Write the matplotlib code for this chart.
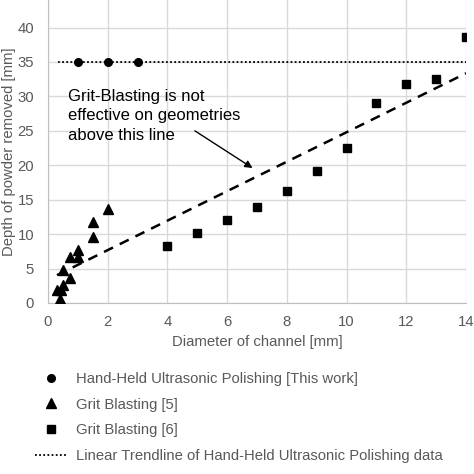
import numpy as np
import matplotlib
matplotlib.use("Agg")
import matplotlib.pyplot as plt

plt.rcParams['font.family'] = ['Liberation Sans', 'DejaVu Sans']

# Data
uhp_x = [1, 2, 3]
uhp_y = [35, 35, 35]

gb5_x = [0.3, 0.42, 0.4, 0.5, 0.5, 0.75, 0.75, 1.0, 1.0, 1.5, 1.5, 2.0]
gb5_y = [1.9, 1.9, 0.6, 2.6, 4.8, 3.6, 6.7, 6.7, 7.7, 9.6, 11.8, 13.7]

gb6_x = [4, 5, 6, 7, 8, 9, 10, 11, 12, 13, 14]
gb6_y = [8.3, 10.1, 12.1, 13.9, 16.3, 19.2, 22.5, 29.0, 31.8, 32.5, 38.6]

uhp_trend_range = [0.33, 14]
uhp_trend_value = 35
gb_trend_range = [0.3, 14]
gb_trend_slope = 2.14
gb_trend_intercept = 3.4

labels = ["Hand-Held Ultrasonic Polishing [This work]",
          "Grit Blasting [5]",
          "Grit Blasting [6]",
          "Linear Trendline of Hand-Held Ultrasonic Polishing data",
          "Linear Trendline of Grit Blasting data"]

txt = '#595959'
fs = 10.7
W = H = 474
fig = plt.figure(figsize=(4.74, 4.74), dpi=100)
ax = fig.add_axes([48 / W, (H - 303) / H, (466 - 48) / W, 303 / H])

l1, = ax.plot(uhp_x, uhp_y, 'o', color='black', ms=5.5, zorder=4)
l2, = ax.plot(gb5_x, gb5_y, '^', color='black', ms=6.5, zorder=4)
l3, = ax.plot(gb6_x, gb6_y, 's', color='black', ms=6, zorder=4)
l4, = ax.plot(uhp_trend_range, [uhp_trend_value] * 2, linestyle=(0, (1, 1.3)),
              color='black', lw=1.3, zorder=3)
gx = np.array(gb_trend_range)
l5, = ax.plot(gx, gb_trend_slope * gx + gb_trend_intercept, linestyle=(0, (4, 3)),
              color='black', lw=1.8, zorder=3)

ax.set_xlim(0, 14)
ax.set_ylim(0, 44)
ax.set_xticks(range(0, 15, 2))
ax.set_yticks(range(0, 45, 5))
ax.grid(True, color='#d9d9d9', lw=1)
ax.set_axisbelow(True)
for s in ['top', 'right']:
    ax.spines[s].set_visible(False)
for s in ['left', 'bottom']:
    ax.spines[s].set_color('#bfbfbf')
ax.tick_params(length=0, labelsize=fs, colors=txt)
ax.tick_params(axis='x', pad=9)
ax.tick_params(axis='y', pad=10)
ax.set_xlabel("Diameter of channel [mm]", fontsize=fs, color=txt, labelpad=4)
ax.set_ylabel("Depth of powder removed [mm]", fontsize=fs, color=txt, labelpad=1)

ax.text(0.67, 27.2, "Grit-Blasting is not\neffective on geometries\nabove this line",
        fontsize=12, color='black', ha='left', va='center', linespacing=1.38)
ax.annotate("", xy=(6.85, 19.6), xytext=(4.92, 25.0),
            arrowprops=dict(arrowstyle='-|>', color='black', lw=1,
                            mutation_scale=11, shrinkA=0, shrinkB=0))

fig.legend([l1, l2, l3, l4, l5], labels, loc='upper left',
           bbox_to_anchor=(35 / W, 1 - 372 / H), frameon=False,
           fontsize=fs, labelcolor=txt, labelspacing=0.78,
           handlelength=2.2, handletextpad=0.55, borderaxespad=0,
           borderpad=0)

fig.savefig("out.png", dpi=100)
